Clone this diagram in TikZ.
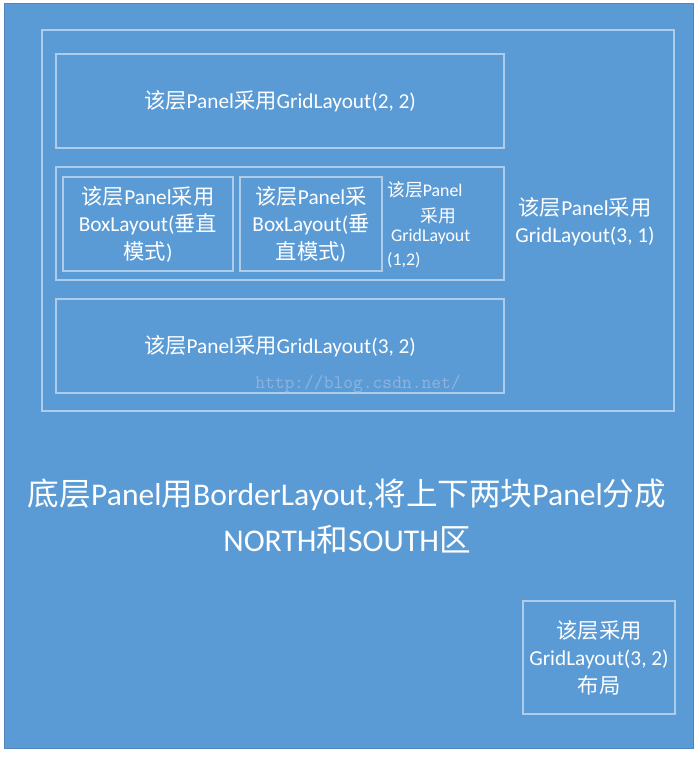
\documentclass[tikz,border=0pt]{standalone}
\usepackage{fontspec}
\setmainfont{Carlito}
\newfontfamily\cjk{Noto Sans CJK SC}
\newcommand\zh[1]{{\cjk #1}}
\definecolor{bgblue}{HTML}{5B9BD5}
\definecolor{edgeblue}{HTML}{4F86BE}
\definecolor{pline}{HTML}{ADCDEA}
\definecolor{wmark}{HTML}{8DB4DE}
\tikzset{
  panel/.style={draw=pline, line width=1.2pt, rectangle, inner sep=0pt},
  txt/.style={text=white, align=center, inner sep=0pt, font=\fontsize{21.3}{27.5}\selectfont},
  smalltxt/.style={text=white, inner sep=0pt, anchor=west, font=\fontsize{17.8}{20}\selectfont},
  bigtxt/.style={text=white, align=center, inner sep=0pt, font=\fontsize{31.6}{46}\selectfont}
}
\begin{document}
\begin{tikzpicture}[x=1pt,y=-1pt]
\useasboundingbox (0,0) rectangle (699,757);
\fill[white] (0,0) rectangle (699,757);
\node[draw=edgeblue, fill=bgblue, line width=0.8pt, minimum width=689pt, minimum height=745pt, inner sep=0pt] (base) at (348.5,375.5) {};
% outer frame GridLayout(3,1)
\node[panel, minimum width=632pt, minimum height=381pt] (frame) at (358,220.5) {};
% row 1
\node[panel, minimum width=448pt, minimum height=94pt, txt] (row1) at (280,101) {\zh{该层}Panel\zh{采用}GridLayout(2, 2)};
% row 2
\node[panel, minimum width=448pt, minimum height=113pt] (row2) at (280,223.5) {};
\node[panel, minimum width=170pt, minimum height=94pt, txt] (boxa) at (148,224) {\zh{该层}Panel\zh{采用}\\BoxLayout(\zh{垂直}\\\zh{模式})};
\node[panel, minimum width=142pt, minimum height=94pt, txt] (boxb) at (311,224) {\zh{该层}Panel\zh{采}\\BoxLayout(\zh{垂}\\\zh{直模式})};
\node[smalltxt] (g1) at (387,190) {\zh{该层}Panel};
\node[smalltxt] (g2) at (420,216) {\zh{采用}};
\node[smalltxt] (g3) at (391,237) {GridLayout};
\node[smalltxt] (g4) at (387,260) {(1,2)};
% row 3
\node[panel, minimum width=448pt, minimum height=94pt, txt] (row3) at (280,346) {\zh{该层}Panel\zh{采用}GridLayout(3, 2)};
\node[text=wmark, inner sep=0pt, font=\ttfamily\fontsize{19}{19}\selectfont] (wm) at (358,384) {http://blog.csdn.net/};
% frame label
\node[txt] (framelbl) at (585,221.5) {\zh{该层}Panel\zh{采用}\\GridLayout(3, 1)};
% big label
\node[bigtxt] (big) at (347,516) {\zh{底层}Panel\zh{用}BorderLayout,\zh{将上下两块}Panel\zh{分成}\\NORTH\zh{和}SOUTH\zh{区}};
% bottom right
\node[panel, minimum width=152pt, minimum height=113pt, txt] (south) at (599,657.5) {\zh{该层采用}\\GridLayout(3, 2)\\\zh{布局}};
\end{tikzpicture}
\end{document}
